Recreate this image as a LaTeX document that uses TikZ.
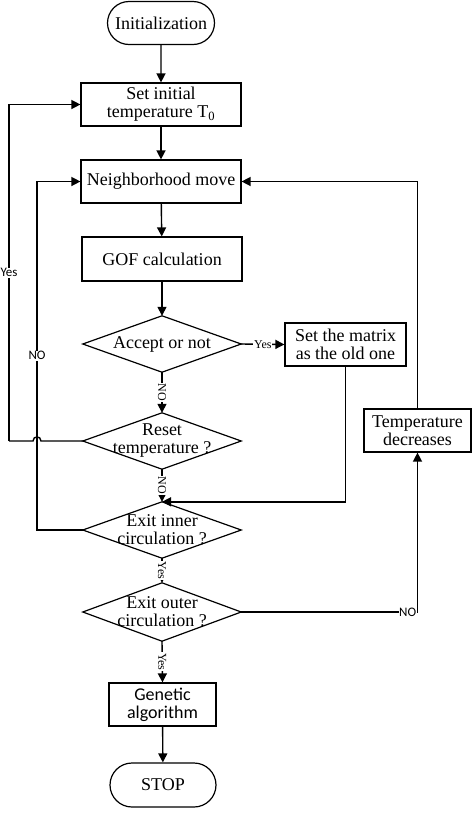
\documentclass[tikz,border=0pt]{standalone}
\usepackage{fontspec}
\setmainfont{Liberation Serif}
\newfontfamily\calib{Carlito}
\usetikzlibrary{arrows.meta,shapes.misc}
\begin{document}
\begin{tikzpicture}[x=1pt,y=-1pt,
  every node/.style={font=\fontsize{18}{18}\selectfont, align=center, inner sep=0pt},
  box/.style={draw, rectangle, line width=1.2pt},
  term/.style={draw, rounded rectangle, line width=1.2pt},
  dia/.style={rectangle, minimum width=158pt, minimum height=56pt},
  ln/.style={line width=1.4pt},
  arr/.style={ln, -{Triangle[length=9pt,width=9pt]}},
  lab/.style={font=\fontsize{12}{12}\selectfont, fill=white, inner sep=0.6pt},
  slab/.style={font=\calib\fontsize{13}{13}\selectfont, fill=white, inner sep=0.6pt},
]
\useasboundingbox (0,0) rectangle (474,814);

\node[term, minimum width=107pt, minimum height=43pt] (init) at (161,23) {Initialization};
\node[box, minimum width=160pt, minimum height=43pt] (setT) at (161,104.5) {Set initial\\temperature T\textsubscript{0}};
\node[box, minimum width=160pt, minimum height=43pt] (nbr) at (161,181.5) {Neighborhood move};
\node[box, minimum width=160pt, minimum height=44pt] (gof) at (162,259) {GOF calculation};
\node[dia] (acc) at (162,344) {Accept or not};
\node[box, minimum width=121pt, minimum height=43pt] (mat) at (345.5,344.5) {Set the matrix\\as the old one};
\node[dia] (rst) at (162,441) {Reset\\temperature ?};
\node[box, minimum width=107pt, minimum height=43pt] (tdec) at (417.5,430.5) {Temperature\\decreases};
\node[dia] (inn) at (162,530) {Exit inner\\circulation ?};
\node[dia, minimum height=58pt] (out) at (162,612) {Exit outer\\circulation ?};
\node[box, minimum width=107pt, minimum height=43pt, font=\calib\fontsize{18}{18}\selectfont] (gen) at (162.5,704.5) {Genetic\\algorithm};
\node[term, minimum width=106pt, minimum height=44pt] (stop) at (163,785) {STOP};

\foreach \n in {acc,rst,inn,out}
  \draw[line width=1.2pt] (\n.north) -- (\n.east) -- (\n.south) -- (\n.west) -- cycle;

\coordinate (ci) at (37,530);
\coordinate (co) at (9,441);

\draw[arr] (init) -- (setT);
\draw[arr] (setT) -- (nbr);
\draw[arr] (nbr) -- (gof);
\draw[arr] (gof) -- (acc.north);
\draw[arr] (acc.east) -- node[lab] {Yes} (mat.west);
\draw[arr] (acc.south) -- node[lab, rotate=-90] {NO} (rst.north);
\draw[arr] (rst.south) -- node[lab, rotate=-90] {NO} (inn.north);
\draw[arr] (mat.south) |- (inn.north);
\draw[arr] (inn.south) -- node[lab, rotate=-90] {Yes} (out.north);
\draw[arr] (out.south) -- node[lab, rotate=-90] {Yes} (gen.north);
\draw[arr] (gen) -- (stop);
\draw[arr] (out.east) -| node[pos=0.5, anchor=east, slab] {NO} (tdec.south);
\draw[arr] (tdec.north) |- (nbr.east);
\draw[arr] (inn.west) -- (ci) |- node[pos=0.25, slab] {NO} (nbr.west);
\draw[ln] (rst.west) -- (41,441) .. controls (41,435.5) and (33,435.5) .. (33,441) -- (co);
\draw[arr] (co) |- node[pos=0.25, slab] {Yes} (setT.west);
\end{tikzpicture}
\end{document}
